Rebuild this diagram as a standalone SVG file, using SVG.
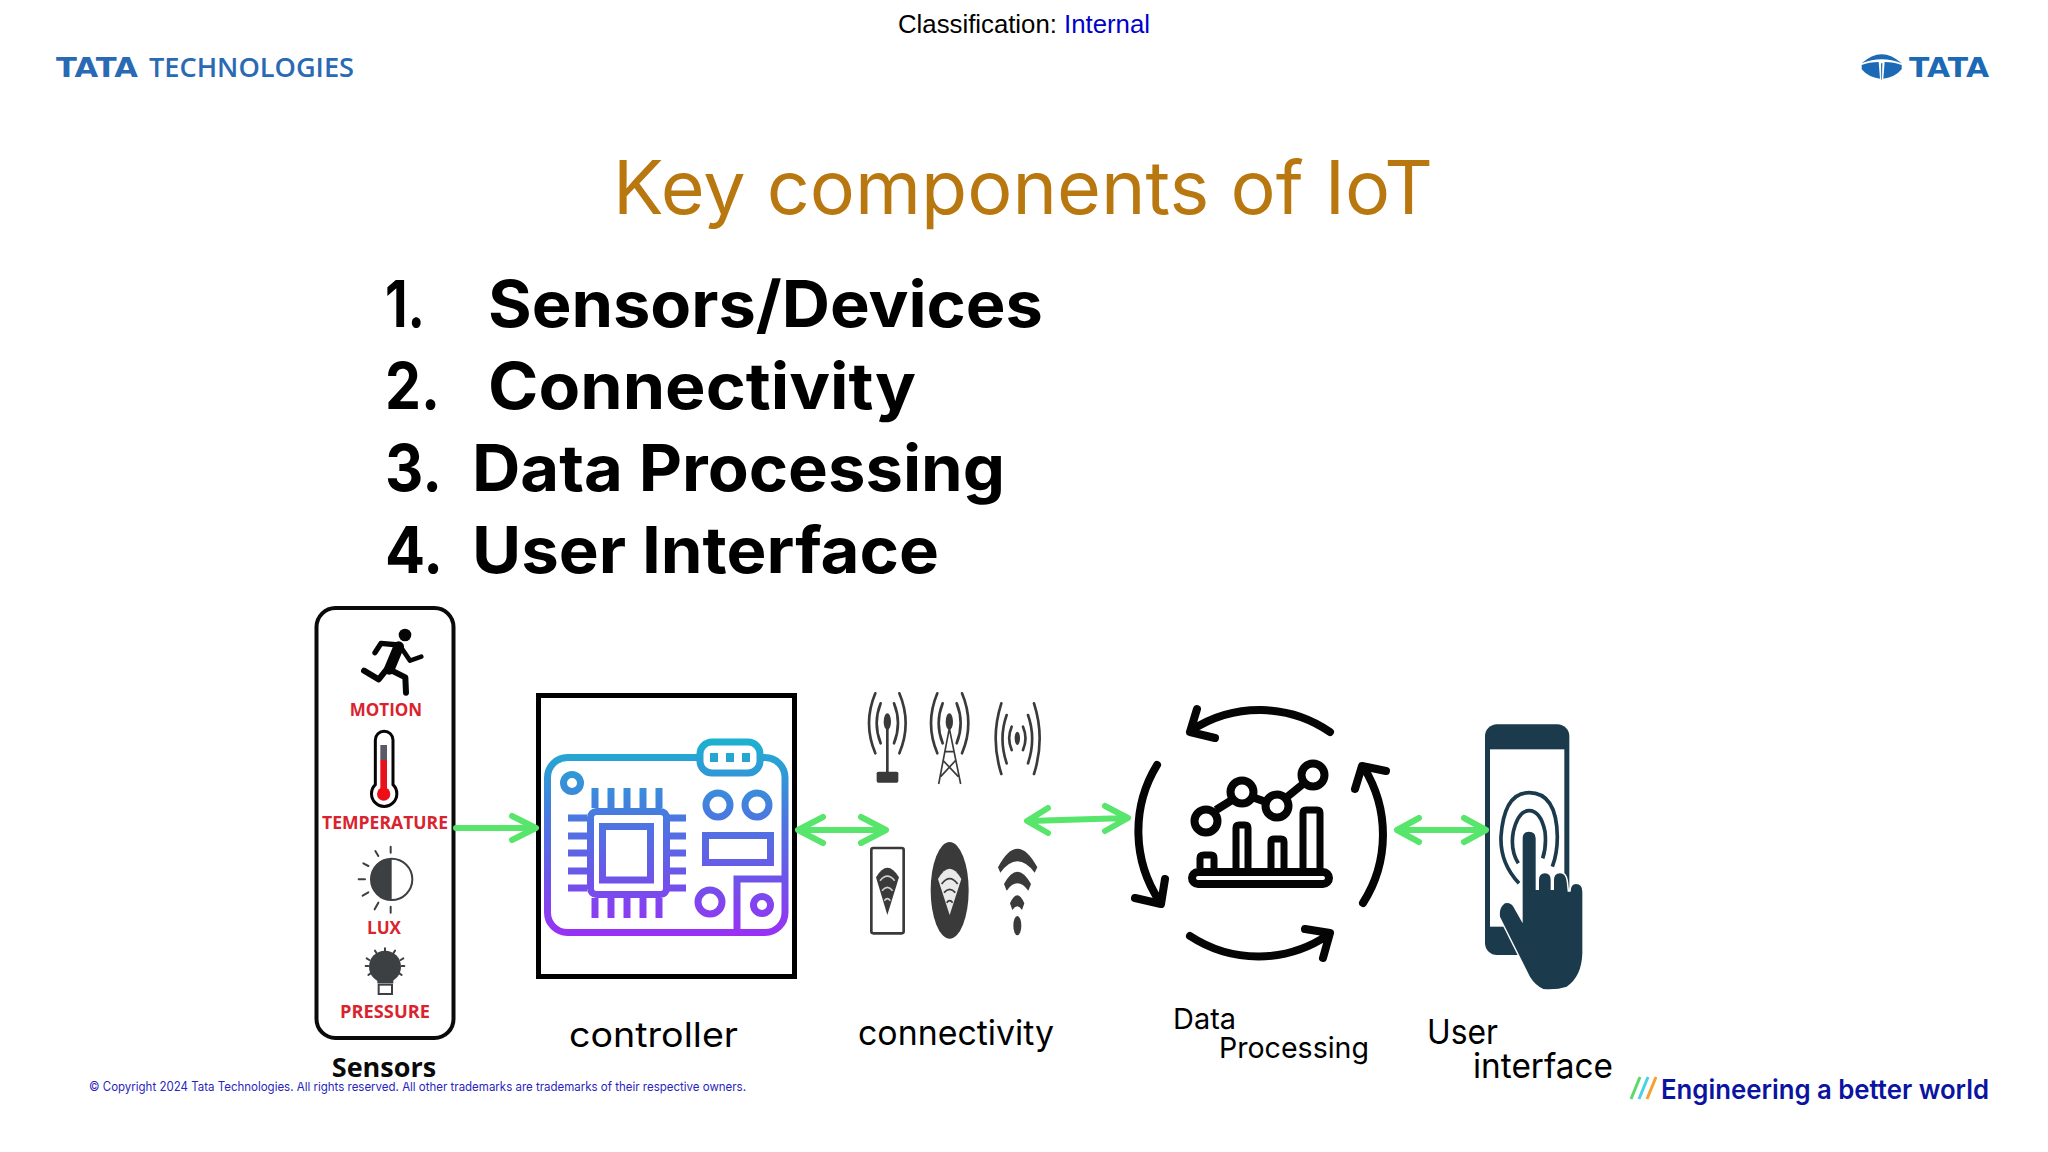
<svg xmlns="http://www.w3.org/2000/svg" width="2048" height="1152" viewBox="0 0 2048 1152">
<style>
text{font-family:"Inter","Noto Sans",sans-serif}
.hd{font-weight:700;font-size:64px;fill:#000}
.lb{font-size:34px;fill:#000}
.sl{font-family:"Open Sans",sans-serif;font-weight:700;font-size:17px;fill:#d9232e;text-anchor:middle}
.b{fill:none;stroke:url(#g);stroke-width:7}
.f{fill:url(#g)}
.a{fill:none;stroke:#3a3a3a;stroke-width:8;stroke-linecap:round}
.k{fill:none;stroke:#050505;stroke-width:8;stroke-linecap:round;stroke-linejoin:round}
.c{fill:none;stroke:#050505;stroke-width:7;stroke-linejoin:round}
.e{fill:none;stroke:#57e56c;stroke-width:6;stroke-linecap:round;stroke-linejoin:round}
.r{stroke:#3d4043;stroke-width:6;stroke-linecap:round;fill:none}
.tb{fill:#2a6ab4}
</style>
<defs>
<linearGradient id="g" gradientUnits="userSpaceOnUse" x1="0" y1="739" x2="0" y2="936">
<stop offset="0" stop-color="#1cb2cf"/><stop offset=".4" stop-color="#4a78e0"/><stop offset=".68" stop-color="#6a58e8"/><stop offset="1" stop-color="#9a30f5"/>
</linearGradient>
</defs>
<rect width="2048" height="1152" fill="#fff"/>

<g id="header">
<text x="898" y="33" font-size="26" style="font-family:'Liberation Sans',sans-serif" textLength="252" lengthAdjust="spacingAndGlyphs"><tspan fill="#000">Classification: </tspan><tspan fill="#0000cc">Internal</tspan></text>
<text x="56" y="77" class="tb" style="font-family:'DejaVu Sans',sans-serif;font-weight:700" font-size="26" textLength="82" lengthAdjust="spacingAndGlyphs">TATA</text>
<text x="149" y="77" class="tb" style="font-family:'Open Sans',sans-serif;font-weight:600" font-size="27" textLength="205" lengthAdjust="spacingAndGlyphs">TECHNOLOGIES</text>
<text x="1909" y="77" fill="#1c69b5" style="font-family:'DejaVu Sans',sans-serif;font-weight:700" font-size="27" textLength="80" lengthAdjust="spacingAndGlyphs">TATA</text>
<g transform="translate(1780,30) scale(.33333)" fill="#1c69b5">
<path d="M245,100 Q305,45 365,100 Q335,88 305,88 Q275,88 245,100Z"/>
<path d="M245,105 Q268,96 296,96 L300,146 Q265,142 245,118Z"/>
<path d="M365,105 Q342,96 314,96 L310,146 Q345,142 365,118Z"/>
<path d="M303,100 H307 L306,149 H304Z"/>
</g>
<text x="613" y="214" font-size="74" fill="#b8770f" textLength="820" lengthAdjust="spacingAndGlyphs">Key components of IoT</text>
</g>

<g id="list">
<text class="hd" x="385" y="327" textLength="40" lengthAdjust="spacingAndGlyphs">1.</text><text class="hd" x="488" y="327" textLength="555" lengthAdjust="spacingAndGlyphs">Sensors/Devices</text>
<text class="hd" x="385" y="409" textLength="55" lengthAdjust="spacingAndGlyphs">2.</text><text class="hd" x="488" y="409" textLength="428" lengthAdjust="spacingAndGlyphs">Connectivity</text>
<text class="hd" x="385" y="491" textLength="57" lengthAdjust="spacingAndGlyphs">3.</text><text class="hd" x="472" y="491" textLength="533" lengthAdjust="spacingAndGlyphs">Data Processing</text>
<text class="hd" x="385" y="573" textLength="58" lengthAdjust="spacingAndGlyphs">4.</text><text class="hd" x="472" y="573" textLength="467" lengthAdjust="spacingAndGlyphs">User Interface</text>
</g>

<g id="footer">
<text x="89" y="1091" font-size="12.500" fill="#2a1fc0" textLength="657" lengthAdjust="spacingAndGlyphs">© Copyright 2024 Tata Technologies. All rights reserved. All other trademarks are trademarks of their respective owners.</text>
<path d="M1631,1099L1640,1077" stroke="#5cd96a" stroke-width="3" fill="none"/>
<path d="M1639,1099L1648,1077" stroke="#4dd0e0" stroke-width="3" fill="none"/>
<path d="M1647,1099L1656,1077" stroke="#f5a030" stroke-width="3" fill="none"/>
<text x="1661" y="1099" font-size="27" font-weight="600" fill="#0a14a0" textLength="328" lengthAdjust="spacingAndGlyphs">Engineering a better world</text>
</g>

<g id="sensors">
<rect x="297" y="1040" width="157" height="42" fill="#fff"/>
<rect x="316.500" y="608" width="137" height="430" rx="19" fill="#fff" stroke="#0a0a0a" stroke-width="4"/>
<g transform="translate(300,590) scale(.33333)">
<g id="runner" fill="none" stroke="#050505" stroke-linecap="round" stroke-linejoin="round">
<circle cx="315" cy="135" r="19" fill="#050505" stroke="none"/>
<path d="M296,170 L268,238" stroke-width="32"/>
<path d="M296,165 L243,160 L225,188" stroke-width="16"/>
<path d="M303,172 L330,212 L364,200" stroke-width="14"/>
<path d="M265,232 L236,268 L192,242" stroke-width="18"/>
<path d="M268,238 L316,262 L318,308" stroke-width="18"/>
</g>
<g id="thermo">
<path d="M226,584 V450 a26,26 0 0 1 53,0 V584 a38,38 0 1 1 -53,0Z" fill="#fff" stroke="#050505" stroke-width="9"/>
<rect x="241" y="465" width="20" height="46" fill="#5a5a66"/>
<rect x="241" y="510" width="20" height="95" fill="#e8121c"/>
<circle cx="251" cy="612" r="20" fill="#ee0f16"/>
</g>
<g id="lux">
<circle cx="275" cy="868" r="62" fill="#fff" stroke="#3d4043" stroke-width="6"/>
<path d="M275,806 A62,62 0 0 0 275,930Z" fill="#3d4043"/>
<path class="r" d="M272,770 V788 M226,783 L235,798 M190,820 L205,828 M176,868 H195 M188,917 L205,907 M224,958 L235,938 M272,950 V968"/>
</g>
<g id="bulb">
<circle cx="255" cy="1130" r="48" fill="#3d4043"/>
<path d="M232,1160 H280 V1180 H232Z" fill="#3d4043"/>
<rect x="236" y="1184" width="40" height="28" fill="#fff" stroke="#3d4043" stroke-width="6"/>
<path class="r" d="M255,1075 V1084 M225,1082 L230,1090 M285,1082 L280,1090 M200,1105 L208,1110 M310,1105 L302,1110 M197,1128 H205 M313,1128 H305 M205,1155 L212,1150 M305,1155 L298,1150"/>
</g>
</g>
<text class="sl" x="386" y="716">MOTION</text>
<text class="sl" x="385" y="829" textLength="126" lengthAdjust="spacingAndGlyphs">TEMPERATURE</text>
<text class="sl" x="384" y="934" textLength="34" lengthAdjust="spacingAndGlyphs">LUX</text>
<text class="sl" x="385" y="1018" textLength="90" lengthAdjust="spacingAndGlyphs">PRESSURE</text>
<text x="384" y="1077" text-anchor="middle" font-size="27" style="font-family:'Open Sans',sans-serif;font-weight:700" fill="#0a0a0a">Sensors</text>
</g>

<g id="controller">
<rect x="538.500" y="695.500" width="256" height="281" fill="#fff" stroke="#000" stroke-width="5"/>
<rect class="b" x="547.500" y="757.500" width="237.500" height="175" rx="20"/>
<rect x="700" y="742" width="60" height="31" rx="12" fill="#fff" stroke="url(#g)" stroke-width="7"/>
<rect class="f" x="710" y="753" width="8" height="9"/><rect class="f" x="726" y="753" width="8" height="9"/><rect class="f" x="742" y="753" width="8" height="9"/>
<circle class="b" cx="572" cy="783" r="8.500"/>
<rect class="b" x="590.500" y="811.500" width="76" height="83" rx="6"/>
<rect class="b" x="602.500" y="826.500" width="48" height="53.500"/>
<path class="b" d="M595,788V808M611,788V808M627,788V808M643,788V808M659,788V808M595,898V918M611,898V918M627,898V918M643,898V918M659,898V918M568,818H587M568,836H587M568,853H587M568,871H587M568,888H587M667,818H686M667,836H686M667,853H686M667,871H686M667,888H686"/>
<circle class="b" cx="718" cy="805" r="12"/><circle class="b" cx="757" cy="805" r="12"/>
<rect class="b" x="705.500" y="835.500" width="65" height="27"/>
<circle class="b" cx="710" cy="902" r="12"/>
<path class="b" d="M737,932V879H785"/>
<circle class="b" cx="762" cy="905" r="8.500"/>
<text class="lb" x="569" y="1047" font-size="35" textLength="169" lengthAdjust="spacingAndGlyphs">controller</text>
</g>

<g id="connectivity">
<g transform="translate(800,670) scale(.33333)">
<g id="ant1">
<ellipse cx="262" cy="155" rx="11" ry="25" fill="#3a3a3a"/><rect x="258" y="170" width="8" height="140" fill="#3a3a3a"/><rect x="230" y="305" width="65" height="33" rx="5" fill="#3a3a3a"/>
<path class="a" d="M226,70 Q188,160 226,250 M298,70 Q336,160 298,250 M242,100 Q218,160 242,220 M282,100 Q306,160 282,220"/>
</g>
<g id="ant2">
<ellipse cx="448" cy="155" rx="11" ry="25" fill="#3a3a3a"/>
<path d="M448,175 L416,342 M448,175 L482,342 M428,270 L475,320 M468,270 L422,320 M433,245 H464" stroke="#3a3a3a" stroke-width="5" fill="none"/>
<path class="a" d="M412,70 Q374,160 412,250 M486,70 Q524,160 486,250 M428,100 Q404,160 428,220 M470,100 Q494,160 470,220"/>
</g>
<g id="ant3">
<ellipse cx="652" cy="205" rx="8" ry="20" fill="#3a3a3a"/>
<path class="a" d="M635,170 Q620,205 635,240 M669,170 Q684,205 669,240 M620,135 Q595,205 620,280 M684,135 Q709,205 684,280 M604,100 Q570,205 604,312 M702,100 Q736,205 702,312"/>
</g>
<g id="wifi1">
<rect x="214" y="534" width="97" height="256" rx="6" fill="#fff" stroke="#3a3a3a" stroke-width="8"/>
<path d="M228,622 Q262,565 297,622 L262,735Z" fill="#3a3a3a"/>
<path d="M240,632 Q262,605 284,632 M246,662 Q262,642 278,662 M253,692 Q262,680 271,692" fill="none" stroke="#cfcfcf" stroke-width="5"/>
</g>
<g id="wifi2">
<ellipse cx="449" cy="661" rx="57" ry="145" fill="#3a3a3a"/>
<path d="M414,627 Q449,565 484,627 L449,735Z" fill="#e9e9e9"/>
<path d="M425,642 Q449,610 473,642 M432,668 Q449,648 466,668 M440,698 Q449,686 458,698" fill="none" stroke="#3a3a3a" stroke-width="5"/>
</g>
<g id="wifi3" fill="#3a3a3a">
<path d="M594,592 Q652,480 712,592 L704,608 Q652,540 601,608Z"/>
<path d="M612,642 Q652,568 693,642 L685,662 Q652,618 620,662Z"/>
<path d="M630,700 Q652,652 673,700 L666,720 Q652,698 637,720Z"/>
<ellipse cx="652" cy="767" rx="12" ry="29"/>
</g>
</g>
<text class="lb" x="858" y="1045" font-size="34" textLength="196" lengthAdjust="spacingAndGlyphs">connectivity</text>
</g>

<g id="data-processing">
<path class="k" d="M1330,732 A125,126 0 0 0 1192,730 M1197,709 L1190,732 L1215,738"/>
<path class="k" d="M1157,765 A125,126 0 0 0 1160,902 M1165,879 L1161,904 L1135,898"/>
<path class="k" d="M1190,936 A125,126 0 0 0 1328,935 M1305,929 L1330,933 L1323,958"/>
<path class="k" d="M1363,903 A125,126 0 0 0 1364,768 M1355,789 L1362,766 L1386,771"/>
<path class="c" d="M1200,868V858Q1200,855 1204,855H1211Q1214,855 1214,858V868M1236,868V828Q1236,825 1239,825H1245Q1248,825 1248,828V868M1271,868V842Q1271,839 1274,839H1281Q1284,839 1284,842V868M1303,868V813Q1303,810 1306,810H1317Q1320,810 1320,813V868"/>
<rect x="1192" y="872" width="137" height="12" rx="6" fill="none" stroke="#050505" stroke-width="8"/>
<path d="M1216,810L1232,800M1252,797L1266,802M1287,797L1303,784" stroke="#050505" stroke-width="8" fill="none"/>
<circle cx="1206" cy="821" r="11.500" fill="#fff" stroke="#050505" stroke-width="8"/>
<circle cx="1242" cy="792" r="11.500" fill="#fff" stroke="#050505" stroke-width="8"/>
<circle cx="1277" cy="806" r="11.500" fill="#fff" stroke="#050505" stroke-width="8"/>
<circle cx="1313" cy="775" r="11.500" fill="#fff" stroke="#050505" stroke-width="8"/>
<text x="1173" y="1029" font-size="29" textLength="63" lengthAdjust="spacingAndGlyphs">Data</text>
<text x="1219" y="1058" font-size="29" textLength="150" lengthAdjust="spacingAndGlyphs">Processing</text>
</g>

<g id="user-interface">
<g transform="translate(1300,690) scale(.33333)">
<rect x="555" y="103" width="253" height="692" rx="36" fill="#1b3a4b"/>
<rect x="570" y="178" width="223" height="532" fill="#fff"/>
<path d="M657,580 Q600,520 603,440 Q612,308 687,308 Q770,308 772,440 Q772,490 757,530" fill="none" stroke="#1b3a4b" stroke-width="11"/>
<path d="M655,520 Q630,480 640,425 Q655,362 687,362 Q722,362 735,425 Q740,470 728,505" fill="none" stroke="#1b3a4b" stroke-width="11"/>
<path d="M668,445 Q668,425 687,425 Q707,425 707,445 V600 L717,600 V570 Q717,550 735,550 Q752,550 752,570 V600 H762 V570 Q762,550 780,550 Q797,550 800,575 L803,605 H812 Q812,582 828,582 Q847,582 847,605 V790 Q845,860 800,890 Q770,900 730,897 Q705,885 690,860 L600,680 Q597,652 615,640 Q630,635 640,650 L668,700Z" fill="#1b3a4b" stroke="#fff" stroke-width="9" paint-order="stroke"/>
</g>
<text class="lb" x="1427" y="1044" font-size="33" textLength="71" lengthAdjust="spacingAndGlyphs">User</text>
<text class="lb" x="1473" y="1078" font-size="33" textLength="140" lengthAdjust="spacingAndGlyphs">interface</text>
</g>

<g id="connectors">
<path class="e" d="M456,828H535M512,816L536,828L512,840"/>
<path class="e" d="M800,830H885M823,817L798,830L823,843M861,817L886,830L861,843"/>
<path class="e" stroke-width="5" d="M1029,821L1127,818M1048,808L1027,821L1048,833M1105,806L1128,818L1105,831"/>
<path class="e" d="M1397,830H1484M1419,818L1397,830L1419,842M1464,818L1486,830L1464,842"/>
</g>
</svg>
